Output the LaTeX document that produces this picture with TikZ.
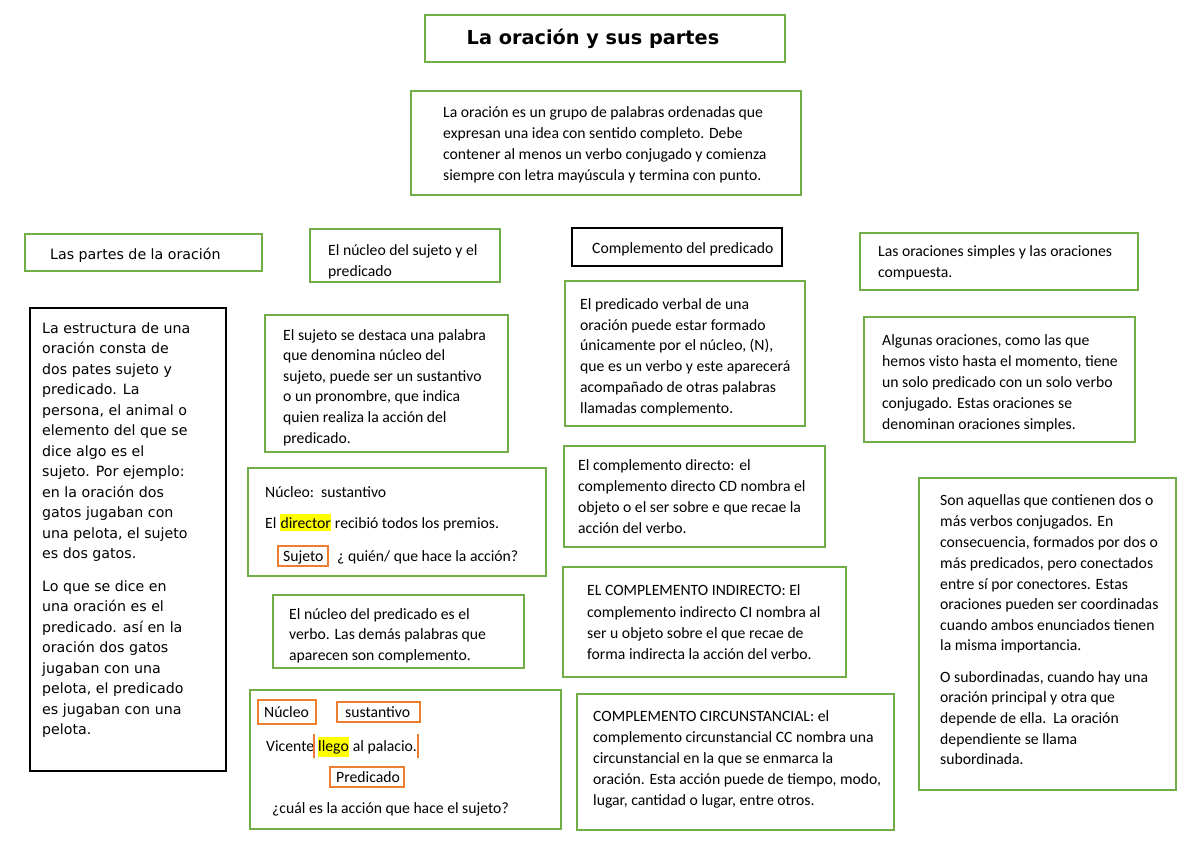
\documentclass[tikz,border=0pt]{standalone}
\usepackage{fontspec}
\setmainfont{Carlito}
\newfontfamily\verd{DejaVu Sans}
\definecolor{grn}{HTML}{70AD47}
\definecolor{org}{HTML}{ED7D31}
\definecolor{hl}{HTML}{FFFF00}
\tikzset{gbox/.style={draw=grn,line width=2pt},
 kbox/.style={draw=black,line width=1.2pt},
 obox/.style={draw=org,line width=1.8pt},
 tx/.style={anchor=base west,inner sep=0pt,font=\fontsize{15.7}{18}\selectfont},
 vx/.style={anchor=base west,inner sep=0pt,font=\verd\fontsize{14.2}{17}\selectfont}}
\newcommand{\tl}[3]{\node[tx] at (#1,#2) {#3};}
\newcommand{\vl}[3]{\node[vx] at (#1,#2) {#3};}
\begin{document}
\begin{tikzpicture}[x=1pt,y=-1pt]
\useasboundingbox[fill=white] (0,0) rectangle (1200,848);
% title
\draw[gbox] (425,15) rectangle (785,62);
\node[font=\verd\bfseries\fontsize{19.3}{22}\selectfont] (title) at (593,39) {La oración y sus partes};
% definition
\draw[gbox] (411,91) rectangle (801,195);
\tl{443}{118}{La oración es un grupo de palabras ordenadas que}
\tl{443}{139}{expresan una idea con sentido completo. Debe}
\tl{443}{160}{contener al menos un verbo conjugado y comienza}
\tl{443}{181}{siempre con letra mayúscula y termina con punto.}
% headers
\draw[gbox] (25,234) rectangle (262,271);
\vl{50}{259}{Las partes de la oración}
\draw[gbox] (310,229) rectangle (500,282);
\tl{328}{255}{El núcleo del sujeto y el}
\tl{328}{276}{predicado}
\draw[kbox] (572,228) rectangle (782,266);
\tl{592}{253}{Complemento del predicado}
\draw[gbox] (860,233) rectangle (1138,290);
\tl{878}{256}{Las oraciones simples y las oraciones}
\tl{878}{277}{compuesta.}
% left box
\draw[draw=black,line width=2pt] (30,308) rectangle (226,771);
\foreach \t [count=\i from 0] in {La estructura de una,oración consta de,dos pates sujeto y,predicado. La,{persona, el animal o},elemento del que se,dice algo es el,sujeto. Por ejemplo:,en la oración dos,gatos jugaban con,{una pelota, el sujeto},es dos gatos.}
  {\node[vx] at (42,333+20.5*\i) {\t};}
\foreach \t [count=\i from 0] in {Lo que se dice en,una oración es el,predicado. así en la,oración dos gatos,jugaban con una,{pelota, el predicado},es jugaban con una,pelota.}
  {\node[vx] at (42,591+20.5*\i) {\t};}
% sujeto box
\draw[gbox] (265,315) rectangle (508,452);
\tl{283}{340}{El sujeto se destaca una palabra}
\tl{283}{360}{que denomina núcleo del}
\tl{283}{381}{sujeto, puede ser un sustantivo}
\tl{283}{401}{o un pronombre, que indica}
\tl{283}{422}{quien realiza la acción del}
\tl{283}{443}{predicado.}
% nucleo box
\draw[gbox] (248,468) rectangle (546,576);
\tl{265}{497}{Núcleo:\ \ sustantivo}
\node[tx] at (265,528) {El \colorbox{hl}{\hspace{-2.5pt}director\hspace{-2.5pt}} recibió todos los premios.};
\draw[obox] (278,546) rectangle (328,566);
\tl{283}{561}{Sujeto}
\tl{337}{561}{¿ quién/ que hace la acción?}
% nucleo predicado
\draw[gbox] (273,595) rectangle (524,668);
\tl{289}{619}{El núcleo del predicado es el}
\tl{289}{639}{verbo. Las demás palabras que}
\tl{289}{660}{aparecen son complemento.}
% bottom box
\draw[gbox] (250,690) rectangle (561,829);
\draw[obox] (258,700) rectangle (316,724);
\tl{264}{717}{Núcleo}
\draw[obox] (337,702) rectangle (420,722);
\tl{345}{717}{sustantivo}
\node[tx] at (266,751) {Vicente \colorbox{hl}{\hspace{-2.5pt}llego\hspace{-2.5pt}} al palacio.};
\draw[obox] (314,734) -- (314,758);
\draw[obox] (418,734) -- (418,758);
\draw[obox] (330,767) rectangle (404,787);
\tl{336}{782}{Predicado}
\tl{272}{813}{¿cuál es la acción que hace el sujeto?}
% predicado verbal
\draw[gbox] (565,281) rectangle (805,426);
\tl{580}{309}{El predicado verbal de una}
\tl{580}{330}{oración puede estar formado}
\tl{580}{350}{únicamente por el núcleo, (N),}
\tl{580}{371}{que es un verbo y este aparecerá}
\tl{580}{392}{acompañado de otras palabras}
\tl{580}{413}{llamadas complemento.}
% CD
\draw[gbox] (564,446) rectangle (825,547);
\tl{578}{470}{El complemento directo: el}
\tl{578}{491}{complemento directo CD nombra el}
\tl{578}{512}{objeto o el ser sobre e que recae la}
\tl{578}{533}{acción del verbo.}
% CI
\draw[gbox] (563,567) rectangle (846,677);
\tl{587}{595}{EL COMPLEMENTO INDIRECTO: El}
\tl{587}{617}{complemento indirecto CI nombra al}
\tl{587}{638}{ser u objeto sobre el que recae de}
\tl{587}{659}{forma indirecta la acción del verbo.}
% CC
\draw[gbox] (577,694) rectangle (894,830);
\tl{593}{721}{COMPLEMENTO CIRCUNSTANCIAL: el}
\tl{593}{742}{complemento circunstancial CC nombra una}
\tl{593}{763}{circunstancial en la que se enmarca la}
\tl{593}{784}{oración. Esta acción puede de tiempo, modo,}
\tl{593}{805}{lugar, cantidad o lugar, entre otros.}
% algunas
\draw[gbox] (864,317) rectangle (1135,442);
\tl{882}{345}{Algunas oraciones, como las que}
\tl{882}{366}{hemos visto hasta el momento, tiene}
\tl{882}{387}{un solo predicado con un solo verbo}
\tl{882}{408}{conjugado. Estas oraciones se}
\tl{882}{429}{denominan oraciones simples.}
% son aquellas
\draw[gbox] (919,478) rectangle (1176,790);
\foreach \t/\y in {Son aquellas que contienen dos o/505,más verbos conjugados. En/526,{consecuencia, formados por dos o}/547,{más predicados, pero conectados}/568,entre sí por conectores. Estas/589,oraciones pueden ser coordinadas/609,cuando ambos enunciados tienen/630,la misma importancia./650,{O subordinadas, cuando hay una}/682,oración principal y otra que/702,depende de ella.\ \ La oración/723,dependiente se llama/744,subordinada./764}
  {\node[tx] at (940,\y) {\t};}
\end{tikzpicture}
\end{document}
